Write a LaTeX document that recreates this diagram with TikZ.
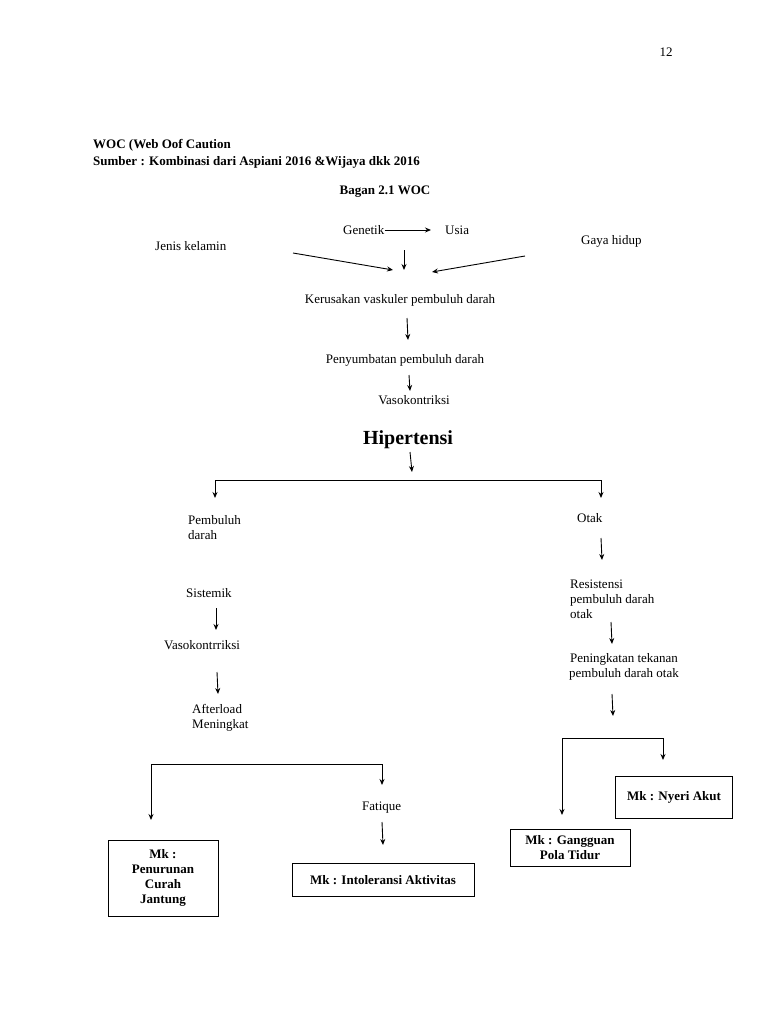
\documentclass[tikz,border=0pt]{standalone}
\usepackage{fontspec}
\setmainfont{Liberation Serif}
\usetikzlibrary{arrows.meta}
\begin{document}
\begin{tikzpicture}[x=1pt,y=-1pt,
  t/.style={font=\fontsize{13}{15}\selectfont,inner sep=0pt},
  tl/.style={t,anchor=west,align=left},
  tc/.style={t,align=center},
  ar/.style={-{Stealth[length=6pt,width=5pt]},line width=0.9pt},
  ln/.style={line width=0.9pt},
  box/.style={draw,line width=0.9pt,font=\fontsize{13}{15}\selectfont\bfseries,align=center,inner sep=0pt}]
\useasboundingbox (0,0) rectangle (768,1024);
\node[t] (pg) at (666,52) {12};
\node[tl,font=\fontsize{13}{15}\selectfont\bfseries] (h1) at (93,145) {WOC (Web Oof Caution};
\node[tl,font=\fontsize{13}{15}\selectfont\bfseries] (h2) at (93,162) {Sumber : Kombinasi dari Aspiani 2016 \&Wijaya dkk 2016};
\node[tc,font=\fontsize{13}{15}\selectfont\bfseries] (h3) at (385,192) {Bagan 2.1 WOC};
\node[tl] (gen) at (343,230) {Genetik};
\node[tl] (usia) at (445,230) {Usia};
\node[tl] (jk) at (155,246) {Jenis kelamin};
\node[tl] (gh) at (581,241) {Gaya hidup};
\draw[ar] (gen.east) -- (431,230);
\coordinate (c1) at (293,253); \coordinate (c2) at (525,256);
\draw[ar] (c1) -- (393,270);
\draw[ar] (404,250) -- (404,270);
\draw[ar] (c2) -- (432,272);
\node[tc] (ker) at (400,300) {Kerusakan vaskuler pembuluh darah};
\draw[ar] (407,318) -- (408,340);
\node[tc] (pen) at (405,360) {Penyumbatan pembuluh darah};
\draw[ar] (409,375) -- (410,391);
\node[tc] (vas) at (414,400) {Vasokontriksi};
\node[tc,font=\fontsize{20}{22}\selectfont\bfseries] (hip) at (408,440) {Hipertensi};
\draw[ar] (410,452) -- (412,472);
\draw[ln] (215,480) -- (601,480);
\draw[ar] (215,480) -- (215,498);
\draw[ar] (601,480) -- (601,498);
\node[tl] (pd) at (188,528) {Pembuluh\\darah};
\node[tl] (otak) at (577,518) {Otak};
\node[tl] (sis) at (186,593) {Sistemik};
\draw[ar] (216,608) -- (216,630);
\node[tl] (vk2) at (164,645) {Vasokontrriksi};
\draw[ar] (217,672) -- (218,694);
\node[tl] (af) at (192,718) {Afterload\\Meningkat};
\draw[ln] (151,764) -- (382,764);
\draw[ar] (151,764) -- (151,820);
\draw[ar] (382,764) -- (382,785);
\node[tl] (fat) at (362,808) {Fatique};
\draw[ar] (382,822) -- (383,845);
\node[box,minimum width=110pt,minimum height=76pt] (b1) at (163,878) {Mk :\\Penurunan\\Curah\\Jantung};
\node[box,minimum width=182pt,minimum height=33pt] (b2) at (383,880) {Mk : Intoleransi Aktivitas};
\draw[ar] (601,538) -- (602,560);
\node[tl] (res) at (570,599) {Resistensi\\pembuluh darah\\otak};
\draw[ar] (611,622) -- (612,644);
\node[tc] (pk) at (624,667) {Peningkatan tekanan\\pembuluh darah otak};
\draw[ar] (612,694) -- (613,716);
\draw[ln] (562,738) -- (663,738);
\draw[ar] (562,738) -- (562,815);
\draw[ar] (663,738) -- (663,760);
\node[box,minimum width=117pt,minimum height=42pt] (b3) at (674,797) {Mk : Nyeri Akut};
\node[box,minimum width=120pt,minimum height=37pt] (b4) at (570,848) {Mk : Gangguan\\Pola Tidur};
\end{tikzpicture}
\end{document}
